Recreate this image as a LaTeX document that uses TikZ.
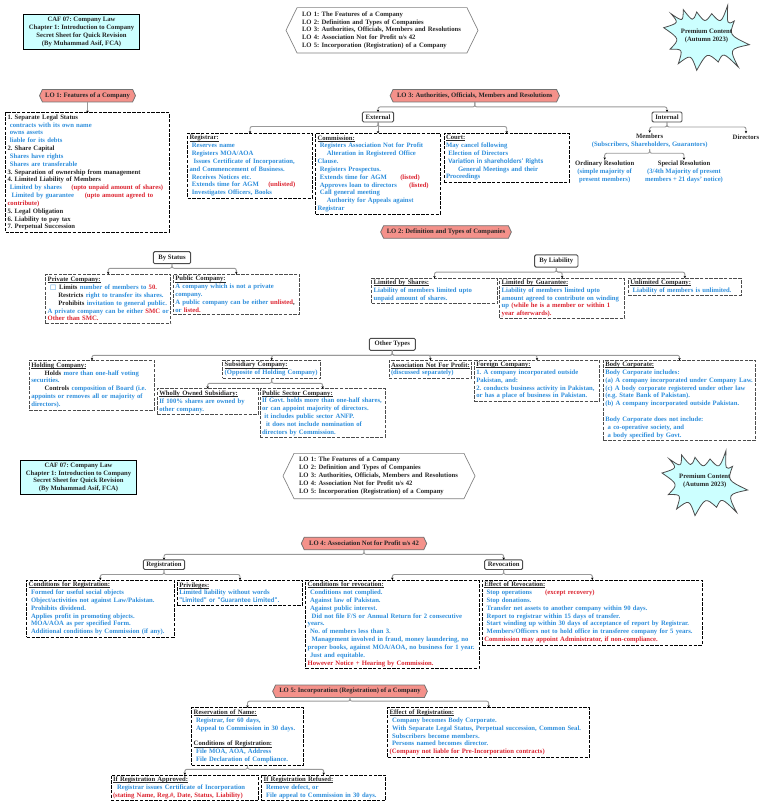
\documentclass[tikz,border=0pt]{standalone}
\usepackage{fontspec}
\setmainfont{Liberation Serif}
\newfontfamily\calfont{Carlito}
\newfontfamily\symfont{DejaVu Sans}
\usepackage{xcolor}
\usetikzlibrary{arrows.meta, positioning, shapes.symbols}
\frenchspacing

\definecolor{inkdark}{HTML}{262626}
\definecolor{inkblue}{HTML}{2F8FDC}
\definecolor{inkred}{HTML}{DC2430}
\definecolor{headfill}{HTML}{F4918A}
\definecolor{capfill}{HTML}{CCFFFF}

\newcommand{\bodyfont}{\bfseries\fontsize{5}{5.88}\selectfont\lefthyphenmin=64 }
\newcommand{\bl}[1]{\textcolor{inkblue}{#1}}
\newcommand{\rd}[1]{\textcolor{inkred}{#1}}
\newcommand{\hd}[1]{\leavevmode\sbox0{#1}\rule{0pt}{3.5pt}\rlap{\rule[-0.9pt]{\wd0}{0.4pt}}\box0 }
\newcommand{\jln}[1]{\leavevmode\hbox to \hsize{#1}}
\newcommand{\ind}{\hspace*{1.8pt}}
\newcommand{\calword}[1]{{\calfont\bfseries\fontsize{5.2}{5.88}\selectfont #1}}

\tikzset{
  dbox/.style 2 args={draw=black, dash pattern=on 2.6pt off 1pt, line width=0.75pt,
    fill=white, anchor=north west, outer sep=0pt, inner xsep=1.5pt, inner ysep=0pt,
    minimum width=#1*0.75pt, minimum height=#2*0.75pt, text width=#1*0.75pt-3pt,
    align=left, font=\bodyfont, text=inkdark},
  gbox/.style 2 args={dbox={#1}{#2}, draw=black!70, line width=0.65pt},
  lohead/.style={signal, signal to=west and east, signal pointer angle=130, draw=black!55,
    line width=0.6pt, fill=headfill, minimum height=9.4pt, inner sep=0.5pt, outer sep=0pt,
    font=\bodyfont, text=inkdark},
  capbox/.style={draw=black, line width=0.8pt, fill=capfill, minimum width=87pt,
    minimum height=26pt, outer sep=0pt, inner sep=0pt, align=center, font=\bodyfont, text=inkdark},
  lolist/.style={signal, signal to=west and east, signal pointer angle=128, draw=black!50,
    line width=0.5pt, fill=white, minimum width=144pt, minimum height=34pt, outer sep=0pt,
    inner sep=0pt, text width=120pt, align=left, font=\bodyfont, text=inkdark},
  branch/.style={draw=black!70, rounded corners=1pt, line width=0.7pt, fill=white, outer sep=0pt,
    inner sep=0pt, align=center, font=\bodyfont, text=inkdark},
  plain/.style={inner sep=0pt, outer sep=1pt, align=center, font=\bodyfont, text=inkdark},
  conn/.style={draw=black!40, line width=0.7pt, rounded corners=1.5pt,
    -{Stealth[length=1.8pt,width=1.8pt,black]}},
  pics/burst/.style={code={
    \draw[draw=black!70, line width=0.6pt, fill=capfill]
      (-41.3,-9.3) .. controls (-26,-14) .. (-34,-23.3) .. controls (-22,-15) .. (-21.7,-27.3)
      .. controls (-12,-15) .. (-8.3,-25) .. controls (0,-14) .. (6.7,-23.3)
      .. controls (16,-13) .. (22.7,-31.7) .. controls (22,-12) .. (29.3,-16)
      .. controls (24,-2) .. (44.3,7.7) .. controls (24,12) .. (33.3,30)
      .. controls (18,15) .. (13.3,25) .. controls (2,15) .. (-8.3,33.3)
      .. controls (-14,17) .. (-26.7,26.7) .. controls (-22,12) .. (-35,12.3)
      .. controls (-25,2) .. cycle;
    \node[plain] (-label) at (1.5,-1) {Premium Content\\(Autumn 2023)};
  }}
}

\begin{document}
\begin{tikzpicture}[x=0.75pt,y=-0.75pt]
  \useasboundingbox (0,0) rectangle (768,806);

  % Sheet 1 heading
  \node[capbox] (capA) at (81.5,32) {CAF 07: Company Law\\Chapter 1: Introduction to Company\\Secret Sheet for Quick Revision\\(By Muhammad Asif, FCA)};
  \node[lolist] (listA) at (382,30.3) {LO 1: The Features of a Company\\LO 2: Definition and Types of Companies\\LO 3: Authorities, Officials, Members and Resolutions\\LO 4: Association Not for Profit u/s 42\\LO 5: Incorporation (Registration) of a Company};
  \pic (burstA) at (705,37) {burst};

  % LO 1
  \node[lohead, minimum width=72pt] (loA) at (87.5,95.7) {LO 1: Features of a Company};
  \node[dbox={164}{119}] (features) at (5.5,113) {1. Separate Legal Status\\
    \ind\bl{contracts with its own name}\\
    \ind\bl{owns assets}\\
    \ind\bl{liable for its debts}\\
    2. Share Capital\\
    \ind\bl{Shares have rights}\\
    \ind\bl{Shares are transferable}\\
    3. Separation of ownership from management\\
    4. Limited Liability of Members\\
    \ind\bl{Limited by shares}\hspace{7pt}\rd{(upto unpaid amount of shares)}\\
    \jln{\hspace{3pt}\bl{Limited by guarantee}\hspace{8pt}\rd{(upto amount agreed to}}\\
    \rd{contribute)}\\
    5. Legal Obligation\\
    6. Liability to pay tax\\
    7. Perpetual Succession};
  \draw[conn] (loA.south) -- (features.north);

  % LO 3
  \node[lohead, minimum width=127pt] (loC) at (474.8,95.7) {LO 3: Authorities, Officials, Members and Resolutions};
  \node[branch, minimum width=23.5pt, minimum height=7.5pt] (external) at (378,117) {External};
  \node[branch, minimum width=22.5pt, minimum height=7.5pt] (internal) at (667,117) {Internal};
  \node[dbox={125}{64.5}] (registrar) at (187.5,133.5) {\hd{Registrar:}\\
    \ind\bl{Reserves name}\\
    \ind\bl{Registers MOA/AOA}\\
    \jln{\hspace{3pt}\bl{Issues Certificate of Incorporation,}}\\
    \bl{and Commencement of Business.}\\
    \ind\bl{Receives Notices etc.}\\
    \ind\bl{Extends time for AGM}\hspace{7pt}\rd{(unlisted)}\\
    \ind\bl{Investigates Officers, Books}};
  \node[dbox={125}{80.5}] (commission) at (315.5,133.5) {\hd{Commission:}\\
    \ind\bl{Registers Association Not for Profit}\\
    \jln{\hspace{7pt}\bl{Alteration in Registered Office}}\\
    \bl{Clause.}\\
    \ind\bl{Registers Prospectus.}\\
    \ind\bl{Extends time for AGM}\hspace{10pt}\rd{(listed)}\\
    \ind\bl{Approves loan to directors}\hspace{9pt}\rd{(listed)}\\
    \ind\bl{Call general meeting}\\
    \jln{\hspace{7pt}\bl{Authority for Appeals against}}\\
    \bl{Registrar}};
  \node[dbox={125.5}{48.5}] (court) at (444,133.5) {\hd{Court:}\\
    \bl{May cancel following}\\
    \ind\bl{Election of Directors}\\
    \ind\bl{\calword{Variation in shareholders' Rights}}\\
    \jln{\hspace{9pt}\bl{General Meetings and their}}\\
    \bl{Proceedings}};
  \node[plain] (members) at (649.7,141) {Members\\\bl{(Subscribers, Shareholders, Guarantors)}};
  \node[plain] (directors) at (746,137) {Directors};
  \node[plain] (ordinary) at (604.7,172) {Ordinary Resolution\\\bl{(simple majority of}\\\bl{present members)}};
  \node[plain] (special) at (684,172) {Special Resolution\\\bl{(3/4th Majority of present}\\\bl{members + 21 days' notice)}};
  \draw[conn] (loC.south) -- ++(0,5) -| (external.north);
  \draw[conn] (loC.south) -- ++(0,5) -| (internal.north);
  \draw[conn] (external.south) -- ++(0,4.5) -| (registrar.north);
  \draw[conn] (external.south) -- (commission.north);
  \draw[conn] (external.south) -- ++(0,4.5) -| (court.north);
  \draw[conn] (internal.south) -- ++(0,5) -| (members.north);
  \draw[conn] (internal.south) -- ++(0,5) -| (directors.north);
  \draw[conn] (members.south) -- ++(0,4) -| (ordinary.north);
  \draw[conn] (members.south) -- ++(0,4) -| (special.north);

  % LO 2
  \node[lohead, minimum width=98pt] (loB) at (446,232) {LO 2: Definition and Types of Companies};
  \node[branch, minimum width=28pt, minimum height=9pt] (bystatus) at (172,257.7) {By Status};
  \node[branch, minimum width=32.5pt, minimum height=9.2pt] (byliability) at (556.3,261) {By Liability};
  \node[branch, minimum width=34.5pt, minimum height=9pt] (othertypes) at (392.3,344.3) {Other Types};
  \node[gbox={125}{49.5}] (private) at (45.7,274.3) {\hd{Private Company:}\\
    \ind{\symfont\mdseries\bl{\char"25A1}}\hspace{2pt}Limits \bl{number of members to} \rd{50.}\\
    \hspace{8pt}Restricts \bl{right to transfer its shares.}\\
    \hspace{8pt}Prohibits \bl{invitation to general public.}\\
    \jln{\bl{A private company can be either} \rd{SMC} \bl{or}\hfill}\\
    \rd{Other than SMC.}};
  \node[gbox={126}{40}] (public) at (173.3,274.3) {\hd{Public Company:}\\
    \jln{\bl{A company which is not a private}}\\
    \bl{company.}\\
    \bl{A public company can be either} \rd{unlisted},\\
    \bl{or} \rd{listed.}};
  \node[gbox={125.6}{25.4}] (byshares) at (371.7,278.3) {\hd{Limited by Shares:}\\
    \jln{\bl{Liability of members limited upto}}\\
    \bl{unpaid amount of shares.}};
  \node[gbox={125}{40.4}] (byguarantee) at (499.7,278.3) {\hd{Limited by Guarantee:}\\
    \jln{\bl{Liability of members limited upto}}\\
    \jln{\bl{amount agreed to contribute on winding}}\\
    \jln{\bl{up} \rd{(while he is a member or within 1}}\\
    \rd{year afterwards).}};
  \node[gbox={113}{17}] (unlimited) at (628.3,278.3) {\hd{Unlimited Company:}\\
    \ind\bl{Liability of members is unlimited.}};
  \node[gbox={125.4}{49.7}] (holding) at (29.3,360.3) {\hd{Holding Company:}\\
    \jln{\hspace{10pt}Holds \bl{more than one-half voting}}\\
    \bl{securities.}\\
    \jln{\hspace{10pt}Controls \bl{composition of Board (i.e.}}\\
    \jln{\bl{appoints or removes all or majority of}}\\
    \bl{directors).}};
  \node[gbox={98}{18}] (subsidiary) at (222.7,360.3) {\hd{Subsidiary Company:}\\
    \bl{(Opposite of Holding Company)}};
  \node[gbox={100.7}{26}] (wholly) at (157.3,388.7) {\hd{Wholly Owned Subsidiary:}\\
    \jln{\bl{If 100\% shares are owned by}}\\
    \bl{other company.}};
  \node[gbox={125.3}{48.6}] (pubsector) at (260,388.7) {\hd{Public Sector Company:}\\
    \bl{If Govt. holds more than one-half shares,}\\
    \bl{or can appoint majority of directors.}\\
    \ind\bl{it includes public sector ANFP.}\\
    \jln{\hspace{3pt}\bl{it does not include nomination of}}\\
    \bl{directors by Commission.}};
  \node[gbox={82.7}{18}] (anfp) at (389,360.3) {\hd{Association Not For Profit:}\\
    \bl{(discussed separately)}};
  \node[gbox={125.4}{40.7}] (foreign) at (474.3,360.3) {\hd{Foreign Company:}\\
    \jln{\bl{1. A company incorporated outside}}\\
    \bl{Pakistan, and:}\\
    \bl{2. conducts business activity in Pakistan,}\\
    \bl{or has a place of business in Pakistan.}};
  \node[gbox={152.4}{80}] (bodycorp) at (603.3,360.3) {\hd{Body Corporate:}\\
    \bl{Body Corporate includes:}\\
    \bl{(a) A company incorporated under Company Law.}\\
    \jln{\bl{(c) A body corporate registered under other law}}\\
    \bl{(e.g. State Bank of Pakistan).}\\
    \bl{(b) A company incorporated outside Pakistan.}\\[5.88pt]
    \bl{Body Corporate does not include:}\\
    \ind\bl{a co-operative society, and}\\
    \ind\bl{a body specified by Govt.}};
  \draw[conn] (bystatus.south) -- ++(0,4.6) -| (private.north);
  \draw[conn] (bystatus.south) -- ++(0,4.6) -| (public.north);
  \draw[conn] (byliability.south) -- ++(0,5) -| (byshares.north);
  \draw[conn] (byliability.south) -- ++(0,5) -| (byguarantee.north);
  \draw[conn] (byliability.south) -- ++(0,5) -| (unlimited.north);
  \draw[conn] (othertypes.south) -- ++(0,5) -| (holding.north);
  \draw[conn] (othertypes.south) -- ++(0,5) -| (subsidiary.north);
  \draw[conn] (othertypes.south) -- ++(0,5) -| (anfp.north);
  \draw[conn] (othertypes.south) -- ++(0,5) -| (foreign.north);
  \draw[conn] (othertypes.south) -- ++(0,5) -| (bodycorp.north);
  \draw[conn] (subsidiary.south) -- ++(0,5) -| (wholly.north);
  \draw[conn] (subsidiary.south) -- ++(0,5) -| (pubsector.north);

  % Sheet 2 heading
  \node[capbox] (capB) at (78.5,477.5) {CAF 07: Company Law\\Chapter 1: Introduction to Company\\Secret Sheet for Quick Revision\\(By Muhammad Asif, FCA)};
  \node[lolist] (listB) at (379,476) {LO 1: The Features of a Company\\LO 2: Definition and Types of Companies\\LO 3: Authorities, Officials, Members and Resolutions\\LO 4: Association Not for Profit u/s 42\\LO 5: Incorporation (Registration) of a Company};
  \pic (burstB) at (703.3,482.3) {burst};

  % LO 4
  \node[lohead, minimum width=94pt] (loD) at (364,543.5) {LO 4: Association Not for Profit u/s 42};
  \node[branch, minimum width=31pt, minimum height=7.2pt] (registration) at (164,564.7) {Registration};
  \node[branch, minimum width=28.5pt, minimum height=7.2pt] (revocation) at (503.7,564.7) {Revocation};
  \node[dbox={147.3}{57.3}] (condreg) at (26.7,580) {\hd{Conditions for Registration:}\\
    \ind\bl{Formed for useful social objects}\\
    \ind\bl{Object/activities not against Law/Pakistan.}\\
    \ind\bl{Prohibits dividend.}\\
    \ind\bl{Applies profit in promoting objects.}\\
    \ind\bl{MOA/AOA as per specified Form.}\\
    \ind\bl{Additional conditions by Commission (if any).}};
  \node[dbox={125.4}{25.3}] (privileges) at (177.3,580) {\hd{Privileges:}\\
    \jln{\bl{Limited liability without words}}\\
    \bl{\calword{"Limited" or "Guarantee Limited".}}};
  \node[dbox={173.3}{88.7}] (condrev) at (305.7,580) {\hd{Conditions for revocation:}\\
    \ind\bl{Conditions not complied.}\\
    \ind\bl{Against law of Pakistan.}\\
    \ind\bl{Against public interest.}\\
    \jln{\hspace{3pt}\bl{Did not file F/S or Annual Return for 2 consecutive}}\\
    \bl{years.}\\
    \ind\bl{No. of members less than 3.}\\
    \jln{\hspace{3pt}\bl{Management involved in fraud, money laundering, no}}\\
    \bl{proper books, against MOA/AOA, no business for 1 year.}\\
    \ind\bl{Just and equitable.}\\
    \rd{However Notice + Hearing by Commission.}};
  \node[dbox={220}{65}] (effrev) at (482.3,580) {\hd{Effect of Revocation:}\\
    \ind\bl{Stop operations}\hspace{10pt}\rd{(except recovery)}\\
    \ind\bl{Stop donations.}\\
    \ind\bl{Transfer net assets to another company within 90 days.}\\
    \ind\bl{Report to registrar within 15 days of transfer.}\\
    \ind\bl{Start winding up within 30 days of acceptance of report by Registrar.}\\
    \ind\bl{Members/Officers not to hold office in transferee company for 5 years.}\\
    \rd{Commission may appoint Administrator, if non-compliance.}};
  \draw[conn] (loD.south) -- ++(0,4.6) -| (registration.north);
  \draw[conn] (loD.south) -- ++(0,4.6) -| (revocation.north);
  \draw[conn] (registration.south) -- ++(0,5) -| (condreg.north);
  \draw[conn] (registration.south) -- ++(0,5) -| (privileges.north);
  \draw[conn] (revocation.south) -- ++(0,5) -| (condrev.north);
  \draw[conn] (revocation.south) -- ++(0,5) -| (effrev.north);

  % LO 5
  \node[lohead, minimum width=116pt] (loE) at (350,691.3) {LO 5: Incorporation (Registration) of a Company};
  \node[dbox={111.6}{57.6}] (reservation) at (191.7,707.7) {\hd{Reservation of Name:}\\
    \ind\bl{Registrar, for 60 days,}\\
    \ind\bl{Appeal to Commission in 30 days.}\\[5.88pt]
    \hd{Conditions of Registration:}\\
    \ind\bl{File MOA, AOA, Address}\\
    \ind\bl{File Declaration of Compliance.}};
  \node[dbox={202}{49.6}] (effreg) at (387.7,707.7) {\hd{Effect of Registration:}\\
    \ind\bl{Company becomes Body Corporate.}\\
    \ind\bl{With Separate Legal Status, Perpetual succession, Common Seal.}\\
    \ind\bl{Subscribers become members.}\\
    \ind\bl{Persons named becomes director.}\\
    \rd{(Company not liable for Pre-Incorporation contracts)}};
  \node[dbox={147.7}{25.7}] (approved) at (111,775) {\hd{If Registration Approved:}\\
    \jln{\hspace{3pt}\bl{Registrar issues Certificate of Incorporation}}\\
    \rd{(stating Name, Reg.\#, Date, Status, Liability)}};
  \node[dbox={124}{25.7}] (refused) at (261.7,775) {\hd{If Registration Refused:}\\
    \ind\bl{Remove defect, or}\\
    \ind\bl{File appeal to Commission in 30 days.}};
  \draw[conn] (loE.south) -- ++(0,3.6) -| (reservation.north);
  \draw[conn] (loE.south) -- ++(0,3.6) -| (effreg.north);
  \draw[conn] (reservation.south) -- ++(0,4) -| (approved.north);
  \draw[conn] (reservation.south) -- ++(0,4) -| (refused.north);
\end{tikzpicture}
\end{document}
